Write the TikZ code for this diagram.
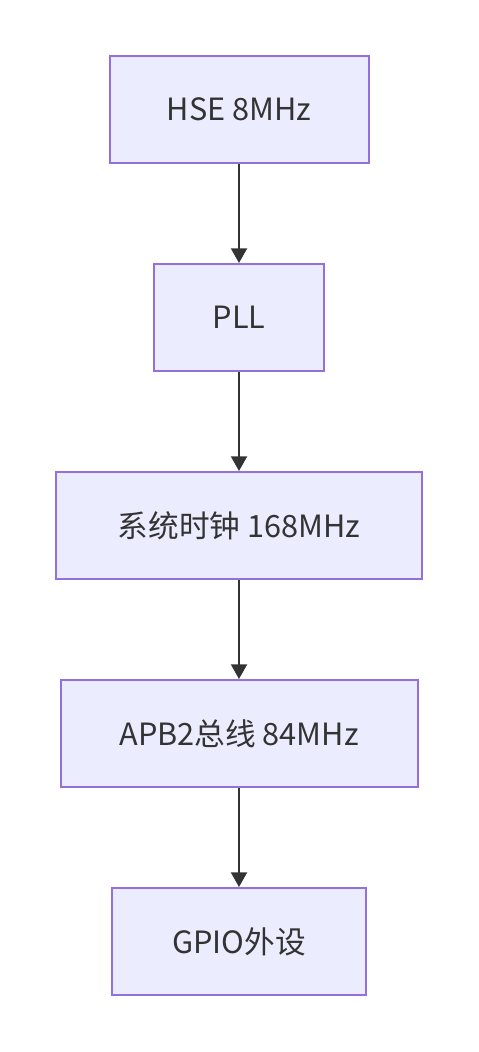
\documentclass[tikz,border=0pt]{standalone}
\usepackage{fontspec}
\setmainfont{Noto Sans CJK SC}
\usetikzlibrary{arrows.meta}
\definecolor{nodefill}{HTML}{ECECFF}
\definecolor{nodeline}{HTML}{9370DB}
\definecolor{txt}{HTML}{333333}
\tikzset{
  box/.style={draw=nodeline, fill=nodefill, line width=1.5pt, text=txt,
    minimum height=80.25pt, inner sep=0pt,
    font=\fontsize{23}{28}\selectfont},
  conn/.style={draw=txt, line width=1.5pt, -{Triangle[length=11pt,width=12pt]}}
}
\begin{document}
\begin{tikzpicture}[x=0.75pt,y=-0.75pt]
\useasboundingbox (0,0) rectangle (478,1052);
\node[box, minimum width=194.25pt] (hse) at (239,109.5) {HSE 8MHz};
\node[box, minimum width=127.5pt] (pll) at (239,317.5) {PLL};
\node[box, minimum width=274.5pt] (sys) at (239,525.5) {系统时钟 168MHz};
\node[box, minimum width=267.75pt] (apb) at (239,733.5) {APB2总线 84MHz};
\node[box, minimum width=190.5pt] (gpio) at (239,941.5) {GPIO外设};
\draw[conn] (hse) -- (pll);
\draw[conn] (pll) -- (sys);
\draw[conn] (sys) -- (apb);
\draw[conn] (apb) -- (gpio);
\end{tikzpicture}
\end{document}
